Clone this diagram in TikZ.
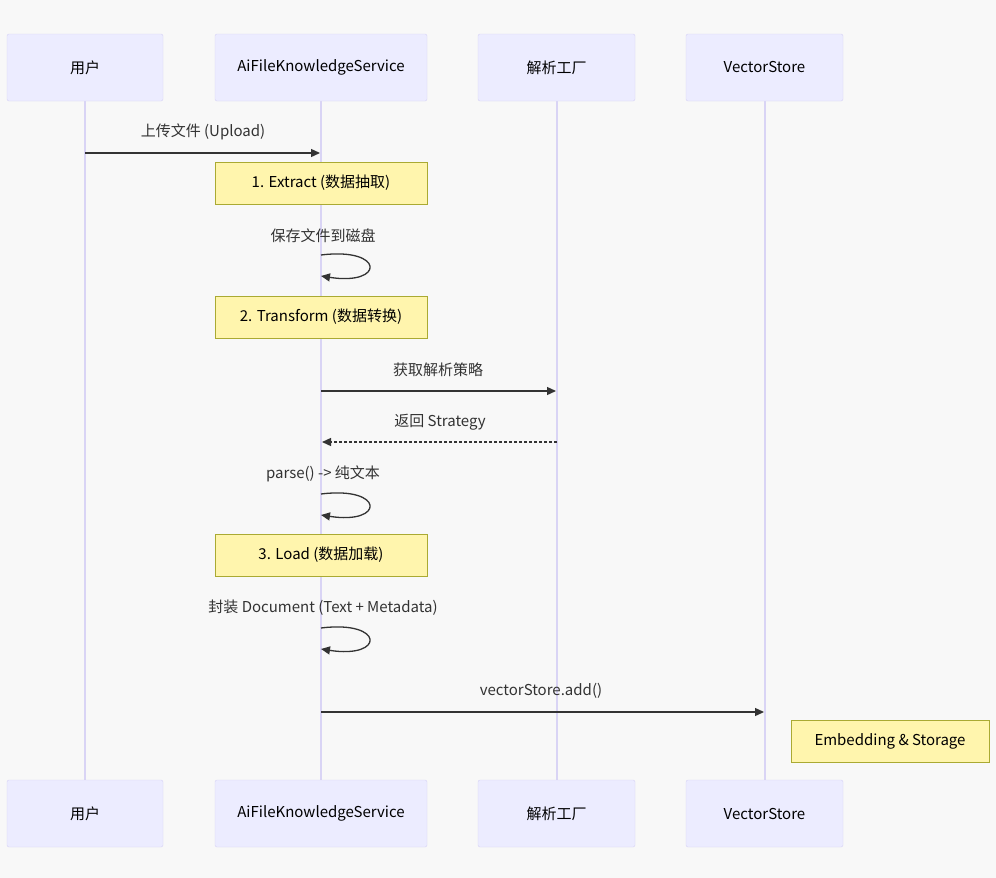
\documentclass[tikz,border=0pt]{standalone}
\usepackage{fontspec}
\setmainfont{Noto Sans CJK SC}
\usetikzlibrary{arrows.meta}
\definecolor{bg}{HTML}{F8F8F8}
\definecolor{actfill}{HTML}{ECECFF}
\definecolor{actdraw}{HTML}{D6D2F5}
\definecolor{life}{HTML}{D9D4F5}
\definecolor{notefill}{HTML}{FFF5AD}
\definecolor{notedraw}{HTML}{AAAA33}
\definecolor{ink}{HTML}{333333}
\begin{document}
\begin{tikzpicture}[x=1pt,y=-1pt,
  actor/.style={draw=actdraw,fill=actfill,rounded corners=2pt,minimum height=67pt,font=\fontsize{15}{18}\selectfont,text=black,inner sep=0pt},
  note/.style={draw=notedraw,fill=notefill,minimum height=42pt,font=\fontsize{15}{18}\selectfont,text=black,inner sep=0pt},
  msg/.style={draw=ink,line width=1.3pt,-{Triangle[length=9pt,width=8pt]}},
  lbl/.style={font=\fontsize{15}{18}\selectfont,text=ink},
  lifeline/.style={draw=life,line width=1.5pt}]
\fill[bg] (0,0) rectangle (996,878);
\useasboundingbox (0,0) rectangle (996,878);
% lifelines
\foreach \x/\n in {85/a,321/b,557/c,765/d}{
  \coordinate (\n t) at (\x,101); \coordinate (\n b) at (\x,780);
  \draw[lifeline] (\n t) -- (\n b);}
\foreach \y/\s in {67.5/t,813.5/b}{
\node[actor,minimum width=156pt] (u\s) at (85,\y) {用户};
\node[actor,minimum width=212pt] (s\s) at (321,\y) {AiFileKnowledgeService};
\node[actor,minimum width=157pt] (p\s) at (556.5,\y) {解析工厂};
\node[actor,minimum width=157pt] (v\s) at (764.5,\y) {VectorStore};
}
% coordinates for messages
\coordinate (m1a) at (85,153); \coordinate (m1b) at (320,153);
\node[lbl] (l1) at (203,132) {上传文件 (Upload)};
\node[note,minimum width=212pt] (n1) at (321,183) {1. Extract (数据抽取)};
\node[lbl] (l2) at (323,236) {保存文件到磁盘};
\coordinate (s1a) at (321,255); \coordinate (s1b) at (321,276);
\node[note,minimum width=212pt] (n2) at (321,317) {2. Transform (数据转换)};
\coordinate (m2a) at (321,391); \coordinate (m2b) at (556,391);
\node[lbl] (l3) at (438,370) {获取解析策略};
\coordinate (m3a) at (557,442); \coordinate (m3b) at (322,442);
\node[lbl] (l4) at (440,422) {返回 Strategy};
\node[lbl] (l5) at (323,474) {parse() -> 纯文本};
\coordinate (s2a) at (321,494); \coordinate (s2b) at (321,515);
\node[note,minimum width=212pt] (n3) at (321,555) {3. Load (数据加载)};
\node[lbl] (l6) at (323,608) {封装 Document (Text + Metadata)};
\coordinate (s3a) at (321,628); \coordinate (s3b) at (321,649);
\coordinate (m4a) at (321,712); \coordinate (m4b) at (764,712);
\node[lbl] (l7) at (541,691) {vectorStore.add()};
\node[note,minimum width=198pt] (n4) at (890,741.5) {Embedding \& Storage};
\draw[msg] (m1a) -- (m1b);
\draw[msg] (m2a) -- (m2b);
\draw[msg,dash pattern=on 3pt off 2pt] (m3a) -- (m3b);
\draw[msg] (m4a) -- (m4b);
\foreach \n in {s1,s2,s3}
  \draw[msg] (\n a) .. controls +(64,-8) and +(64,10) .. (\n b);
\end{tikzpicture}
\end{document}
